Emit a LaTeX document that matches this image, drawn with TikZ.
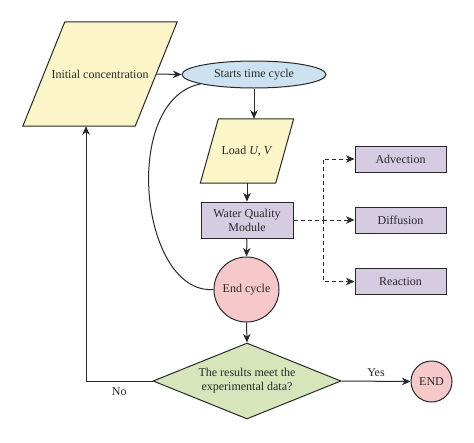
\documentclass[tikz,border=0pt]{standalone}
\usepackage{fontspec}
\setmainfont{Liberation Serif}
\usetikzlibrary{shapes.geometric,arrows.meta,backgrounds}
\definecolor{yel}{RGB}{252,245,200}
\definecolor{blu}{RGB}{204,226,240}
\definecolor{pur}{RGB}{214,204,226}
\definecolor{pnk}{RGB}{246,200,202}
\definecolor{grn}{RGB}{214,230,186}
\definecolor{ln}{RGB}{40,40,40}
\begin{document}
\begin{tikzpicture}[x=1pt,y=-1pt,
  font=\fontsize{12}{14}\selectfont,
  every node/.style={text=ln},
  base/.style={draw=ln,line width=1pt,inner sep=0pt},
  para/.style={inner sep=0pt,align=center},
  ell/.style={base,ellipse,fill=blu,minimum width=144,minimum height=27},
  box/.style={base,rectangle,fill=pur,align=center},
  circ/.style={base,circle,fill=pnk},
  dec/.style={base,diamond,fill=grn,aspect=2.47,minimum width=188,minimum height=76,align=center},
  arr/.style={draw=ln,line width=1pt,-{Stealth[length=8.5pt,width=7.5pt,inset=2.5pt]}},
  con/.style={draw=ln,line width=1pt},
  dsh/.style={draw=ln,line width=1pt,dash pattern=on 4pt off 3pt}]
\useasboundingbox (0,0) rectangle (474,442);

\node[para,minimum width=112,minimum height=104] (init) at (100,74) {Initial concentration};
\node[ell] (start) at (254,74.5) {Starts time cycle};
\node[para,minimum width=75,minimum height=64] (load) at (247,151) {Load \textit{U}, \textit{V}};
\node[box,minimum width=92,minimum height=36] (wqm) at (247,220) {Water Quality\\Module};
\node[circ,minimum size=65] (endc) at (246.5,289.5) {End cycle};
\node[dec] (dec) at (247,381) {The results meet the\\experimental data?};
\node[circ,minimum size=41] (fin) at (431.5,381.5) {END};
\node[box,minimum width=91,minimum height=26] (adv) at (400.5,159) {Advection};
\node[box,minimum width=91,minimum height=26] (dif) at (400.5,220) {Diffusion};
\node[box,minimum width=91,minimum height=26] (rea) at (400.5,281.5) {Reaction};
\coordinate (j) at (323,220);

\begin{scope}[on background layer]
\draw[base,fill=yel] ([xshift=21]init.north west) -- ([xshift=21]init.north east)
  -- ([xshift=-21]init.south east) -- ([xshift=-21]init.south west) -- cycle;
\draw[base,fill=yel] ([xshift=9]load.north west) -- ([xshift=9]load.north east)
  -- ([xshift=-9]load.south east) -- ([xshift=-9]load.south west) -- cycle;
\end{scope}

\draw[arr] (init.east) -- (start.west);
\draw[arr] (start.south) -- (start.south |- load.north);
\draw[arr] (load.south) -- (wqm.north);
\draw[arr] (wqm.south) -- (endc.north);
\draw[arr] (endc.south) -- (dec.north);
\draw[arr] (dec.east) -- node[above,yshift=1pt] {Yes} (fin.west);
\draw[arr] (dec.west) -| node[pos=0.25,below,yshift=-3pt] {No} ([xshift=-14]init.south);
\draw[con] (endc.west) .. controls (140,295) and (120,100) .. (start.190);
\draw[dsh] (wqm.east) -- (j);
\draw[dsh,arr] (j) |- (adv.west);
\draw[dsh,arr] (j) -- (dif.west);
\draw[dsh,arr] (j) |- (rea.west);
\end{tikzpicture}
\end{document}
